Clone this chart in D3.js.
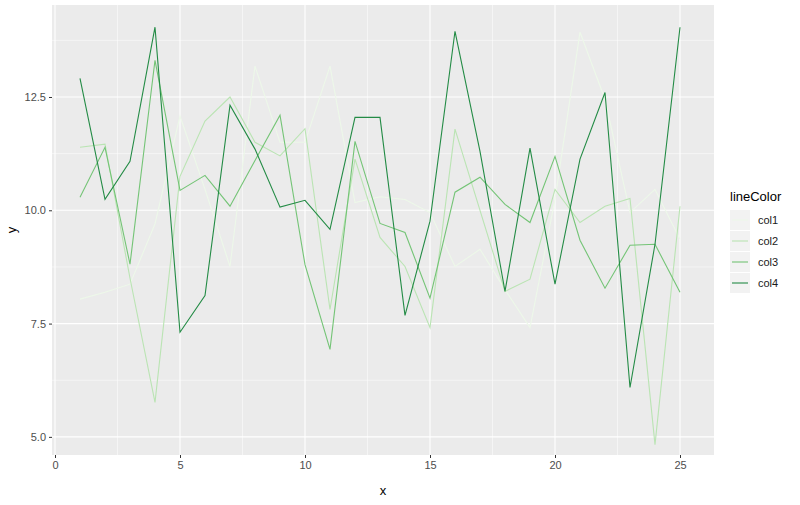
<!DOCTYPE html>
<html><head><meta charset="utf-8">
<script src="https://cdn.jsdelivr.net/npm/d3@7"></script>
<style>body{margin:0;background:#fff;font-family:"Liberation Sans",Arial,sans-serif;}</style>
</head><body><div id="chart-area"></div>
<script>
const xs = d3.range(1, 26);
const col1 = [8.04,8.19,8.37,9.7,12.08,10.46,8.76,13.18,11.5,11.5,13.18,10.17,10.3,10.24,9.95,8.76,9.14,8.25,7.41,10.24,13.93,12.45,9.95,10.46,9.36];
const col2 = [11.39,11.46,8.5,5.76,10.75,11.97,12.5,11.5,11.2,11.8,7.81,11.13,9.4,8.76,7.41,11.79,10.0,8.21,8.48,10.46,9.73,10.09,10.26,4.83,10.09];
const col3 = [10.29,11.39,8.81,13.31,10.44,10.77,10.09,11.1,12.1,8.8,6.93,11.52,9.71,9.51,8.06,10.4,10.73,10.13,9.73,11.19,9.34,8.28,9.23,9.25,8.19];
const col4 = [12.91,10.24,11.08,14.04,7.31,8.12,12.32,11.35,10.07,10.22,9.58,12.05,12.05,7.68,9.76,13.95,11.3,8.21,11.37,8.37,11.13,12.6,6.09,9.25,14.04];
const seriesNames = ["col1","col2","col3","col4"];
const seriesColors = ["#edf8e9","#bae4b3","#74c476","#238b45"];
const xTicks = [0,5,10,15,20,25];
const yTicks = [5.0,7.5,10.0,12.5];

const width = 800, height = 505;
const panel = {left:52, right:714, top:5, bottom:455};

const svg = d3.select("#chart-area").append("svg")
    .attr("width", width).attr("height", height);

const all = [col1,col2,col3,col4];
// panel limits
const x = d3.scaleLinear().domain([-0.12, 26.36]).range([panel.left, panel.right]);
const y = d3.scaleLinear().domain([4.6, 14.53]).range([panel.bottom, panel.top]);

svg.append("rect")
    .attr("x", panel.left).attr("y", panel.top)
    .attr("width", panel.right - panel.left).attr("height", panel.bottom - panel.top)
    .attr("fill", "#ebebeb");

// minor grid
[2.5,7.5,12.5,17.5,22.5].forEach(v => svg.append("line")
    .attr("x1", x(v)).attr("x2", x(v)).attr("y1", panel.top).attr("y2", panel.bottom)
    .attr("stroke", "#fff").attr("stroke-width", 0.5));
[6.25,8.75,11.25,13.75].forEach(v => svg.append("line")
    .attr("x1", panel.left).attr("x2", panel.right).attr("y1", y(v)).attr("y2", y(v))
    .attr("stroke", "#fff").attr("stroke-width", 0.5));
// major grid
xTicks.forEach(v => svg.append("line")
    .attr("x1", x(v)).attr("x2", x(v)).attr("y1", panel.top).attr("y2", panel.bottom)
    .attr("stroke", "#fff").attr("stroke-width", 1.1));
yTicks.forEach(v => svg.append("line")
    .attr("x1", panel.left).attr("x2", panel.right).attr("y1", y(v)).attr("y2", y(v))
    .attr("stroke", "#fff").attr("stroke-width", 1.1));

// axes
const xAxis = svg.append("g").attr("transform", "translate(0," + panel.bottom + ")")
    .call(d3.axisBottom(x).tickValues(xTicks).tickSize(3).tickPadding(3).tickFormat(d3.format("d")));
const yAxis = svg.append("g").attr("transform", "translate(" + panel.left + ",0)")
    .call(d3.axisLeft(y).tickValues(yTicks).tickSize(3).tickPadding(3).tickFormat(d3.format(".1f")));
[xAxis, yAxis].forEach(g => {
    g.select(".domain").remove();
    g.selectAll("line").attr("stroke", "#333");
    g.selectAll("text").attr("fill", "#4d4d4d").attr("font-size", "11px")
        .attr("font-family", "Liberation Sans, Arial, sans-serif");
});

// lines
const line = d3.line().x((d, i) => x(xs[i])).y(d => y(d));
all.forEach((s, i) => svg.append("path")
    .datum(s).attr("d", line).attr("fill", "none")
    .attr("stroke", seriesColors[i]).attr("stroke-width", 1.1));

// axis titles
svg.append("text").attr("x", (panel.left + panel.right) / 2).attr("y", 495)
    .attr("text-anchor", "middle").attr("font-size", "13px").text("x");
svg.append("text").attr("transform", "translate(16," + ((panel.top + panel.bottom) / 2) + ") rotate(-90)")
    .attr("text-anchor", "middle").attr("font-size", "13px").text("y");

// legend
const lg = svg.append("g").attr("transform", "translate(730,0)");
lg.append("text").attr("x", 0).attr("y", 201).attr("font-size", "13px").text("lineColor");
seriesNames.forEach((n, i) => {
    const yy = 210 + i * 21;
    lg.append("rect").attr("x", 0).attr("y", yy).attr("width", 20).attr("height", 20).attr("fill", "#f2f2f2");
    lg.append("line").attr("x1", 2).attr("x2", 18).attr("y1", yy + 10).attr("y2", yy + 10)
        .attr("stroke", seriesColors[i]).attr("stroke-width", 1.1);
    lg.append("text").attr("x", 28).attr("y", yy + 14).attr("font-size", "11px").attr("fill", "#1a1a1a").text(n);
});
</script>
</body></html>
